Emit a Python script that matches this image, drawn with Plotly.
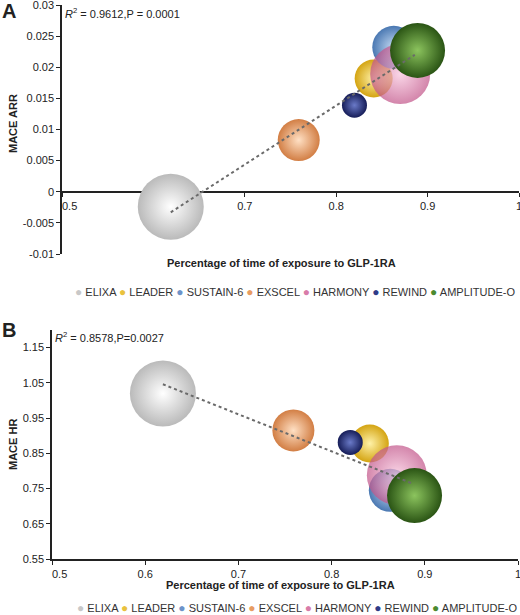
import plotly.graph_objects as go

# trial data
trials = ["ELIXA", "LEADER", "SUSTAIN-6", "EXSCEL", "HARMONY", "REWIND", "AMPLITUDE-O"]
exposure = [0.619, 0.841, 0.863, 0.759, 0.870, 0.820, 0.889]
mace_arr = [-0.0024, 0.0182, 0.0232, 0.0083, 0.0189, 0.0139, 0.0227]
mace_hr = [1.020, 0.878, 0.745, 0.915, 0.788, 0.881, 0.730]
bubble = [66, 38, 43, 42, 60, 25, 55]

# dotted trend lines (end points)
trend_x = [0.619, 0.886]
trend_arr = [-0.0033, 0.0220]
trend_hr = [1.046, 0.765]

x_ticks = [0.5, 0.6, 0.7, 0.8, 0.9, 1.0]
x_labels = ["\u00a0\u00a0\u00a0\u00a0\u00a00.5", "0.6", "0.7", "0.8", "0.9", "1"]
arr_ticks = [-0.01, -0.005, 0, 0.005, 0.01, 0.015, 0.02, 0.025, 0.03]
arr_labels = ["-0.01", "-0.005", "0", "0.005", "0.01", "0.015", "0.02", "0.025", "0.03"]
hr_ticks = [0.55, 0.65, 0.75, 0.85, 0.95, 1.05, 1.15]
hr_labels = ["0.55", "0.65", "0.75", "0.85", "0.95", "1.05", "1.15"]

# sphere look: light core, darker rim
core = ["#ffffff", "#fff2a8", "#c6dcf4", "#ffe0c4", "#f8c6de", "#6a7ac8", "#8cc45e"]
rim = ["#bababa", "#d4a412", "#4a78b2", "#d27e44", "#c2568a", "#161d58", "#2a5414"]
dot = ["#c8c8c8", "#e9c23e", "#6d93c9", "#e89c62", "#d87ca9", "#2f3b88", "#4b8a30"]
alpha = [1, 1, 1, 1, 0.72, 1, 1]

W, H = 520, 615
axA_dom_x = [62 / W, 519 / W]
axA_dom_y = [1 - 254 / H, 1 - 5 / H]
axB_dom_x = [52 / W, 518 / W]
axB_dom_y = [1 - 559 / H, 1 - 330 / H]

fig = go.Figure()

for i, name in enumerate(trials):
    # plotly's radial gradient: marker colour at the rim, gradient colour in the middle
    mk = dict(size=bubble[i], color=rim[i], opacity=alpha[i],
              gradient=dict(type="radial", color=core[i]), line=dict(width=0))
    fig.add_trace(go.Scatter(x=[exposure[i]], y=[mace_arr[i]], mode="markers",
                             marker=mk, name=name, showlegend=False,
                             xaxis="x", yaxis="y", cliponaxis=False))
    fig.add_trace(go.Scatter(x=[exposure[i]], y=[mace_hr[i]], mode="markers",
                             marker=mk, name=name, showlegend=False,
                             xaxis="x2", yaxis="y2", cliponaxis=False))

fig.add_trace(go.Scatter(x=trend_x, y=trend_arr, mode="lines", showlegend=False,
                         line=dict(color="#6a6a6a", width=2, dash="dot"),
                         xaxis="x", yaxis="y"))
fig.add_trace(go.Scatter(x=trend_x, y=trend_hr, mode="lines", showlegend=False,
                         line=dict(color="#6a6a6a", width=2, dash="dot"),
                         xaxis="x2", yaxis="y2"))

tickfont = dict(family="Liberation Sans, Arial", size=11, color="#222")
common = dict(showgrid=False, zeroline=False, showline=True, linecolor="#222",
              linewidth=1.5, ticks="outside", ticklen=4, tickcolor="#222",
              tickwidth=1.2, tickfont=tickfont, layer="below traces",
              automargin=False, ticklabeloverflow="allow")

# x axis of panel A sits on y = 0
zero_pos = axA_dom_y[0] + (0 - arr_ticks[0]) / (arr_ticks[-1] - arr_ticks[0]) * (axA_dom_y[1] - axA_dom_y[0])

fig.update_layout(
    width=W, height=H, margin=dict(l=0, r=0, t=0, b=0, autoexpand=False),
    plot_bgcolor="white", paper_bgcolor="white", showlegend=False,
    xaxis=dict(domain=axA_dom_x, range=[0.5, 1.0], anchor="free", position=zero_pos,
               tickvals=x_ticks, ticktext=x_labels, **common),
    yaxis=dict(domain=axA_dom_y, range=[-0.01, 0.03], anchor="x",
               tickvals=arr_ticks, ticktext=arr_labels, **common),
    xaxis2=dict(domain=axB_dom_x, range=[0.5, 1.0], anchor="y2",
                tickvals=x_ticks, ticktext=x_labels, **common),
    yaxis2=dict(domain=axB_dom_y, range=[0.55, 1.2], anchor="x2",
                tickvals=hr_ticks, ticktext=hr_labels, **common),
)

def legend_text():
    parts = []
    for name, c in zip(trials, dot):
        parts.append(f"<span style='color:{c};font-size:12px'>●</span> {name}")
    return " ".join(parts)

txt = dict(family="Liberation Sans, Arial", color="#222")
notes = [
    dict(text="<b>A</b>", x=0.0, y=1 - 11 / H, xanchor="left", yanchor="middle",
         font=dict(size=20, **txt)),
    dict(text="<b>B</b>", x=0.0, y=1 - 330 / H, xanchor="left", yanchor="middle",
         font=dict(size=20, **txt)),
    dict(text="<i>R</i><sup>2</sup> = 0.9612,P = 0.0001", x=63 / W, y=1 - 13 / H,
         xanchor="left", yanchor="middle", font=dict(size=11, **txt)),
    dict(text="<i>R</i><sup>2</sup> = 0.8578,P=0.0027", x=53 / W, y=1 - 337 / H,
         xanchor="left", yanchor="middle", font=dict(size=11, **txt)),
    dict(text="<b>MACE ARR</b>", x=13 / W, y=1 - 124 / H, textangle=-90,
         xanchor="center", yanchor="middle", font=dict(size=11, **txt)),
    dict(text="<b>MACE HR</b>", x=13 / W, y=1 - 445 / H, textangle=-90,
         xanchor="center", yanchor="middle", font=dict(size=11, **txt)),
    dict(text="<b>Percentage of time of exposure to GLP-1RA</b>", x=281 / W, y=1 - 263 / H,
         xanchor="center", yanchor="middle", font=dict(size=11, **txt)),
    dict(text="<b>Percentage of time of exposure to GLP-1RA</b>", x=280 / W, y=1 - 585 / H,
         xanchor="center", yanchor="middle", font=dict(size=11, **txt)),
    dict(text=legend_text(), x=295 / W, y=1 - 292 / H, xanchor="center", yanchor="middle",
         font=dict(size=11, family="Liberation Sans, Arial", color="#333")),
    dict(text=legend_text(), x=297 / W, y=1 - 608 / H, xanchor="center", yanchor="middle",
         font=dict(size=11, family="Liberation Sans, Arial", color="#333")),
]
for a in notes:
    fig.add_annotation(xref="paper", yref="paper", showarrow=False, **a)

# the page's default 8px body margin would push the figure off the window
fig.write_html("out.html", config={"displayModeBar": False},
               post_script="document.body.style.margin='0px';")
